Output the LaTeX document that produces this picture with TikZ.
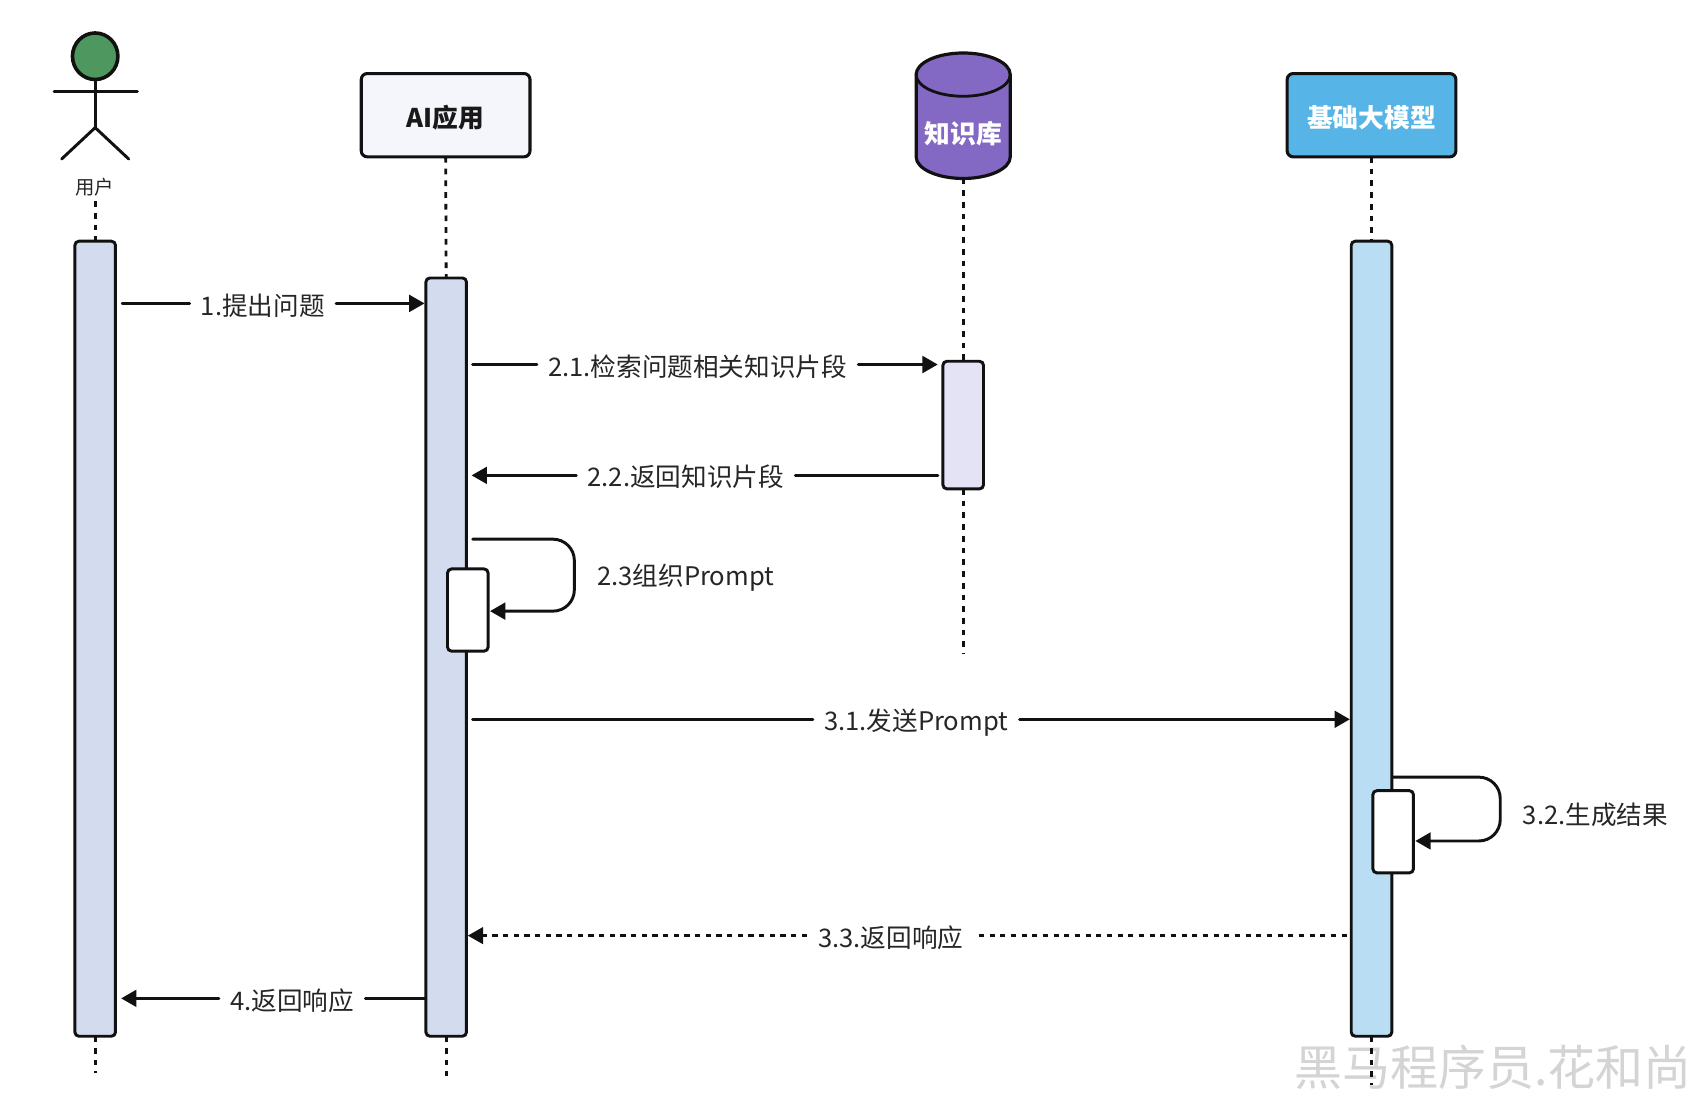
\documentclass[tikz,border=0pt]{standalone}
\usepackage{fontspec}
\setmainfont{Noto Sans CJK SC}
\usetikzlibrary{arrows.meta,shapes.geometric}
\def\ux{0.8112pt}
\definecolor{inkc}{HTML}{111111}
\tikzset{
  every node/.style={inner sep=0pt,outer sep=0pt},
  ln/.style={line width=2.2pt,draw=inkc,line cap=round},
  msg/.style={ln,-{Triangle[length=11.5pt,width=12.5pt]}},
  life/.style={line width=2.1pt,draw=inkc,dash pattern=on 4.3pt off 4.5pt},
  dotmsg/.style={line width=1.9pt,draw=inkc,dash pattern=on 3.8pt off 4.2pt},
  headbox/.style={rectangle,draw=inkc,line width=2.3pt,rounded corners=4.5pt,minimum width=156*\ux,minimum height=77*\ux},
  bar/.style={rectangle,draw=inkc,line width=2.2pt,rounded corners=3pt,minimum width=37.5*\ux},
  msglabel/.style={font=\fontsize{19.2pt}{22pt}\selectfont,text=black!85,inner xsep=10.5*\ux},
  headtext/.style={font=\fontsize{19.3pt}{22pt}\selectfont\bfseries},
}
\begin{document}
\begin{tikzpicture}[x=\ux,y=-\ux]
\useasboundingbox (0,0) rectangle (1568,1016);
\fill[white] (0,0) rectangle (1568,1016);

% watermark
\node[font=\fontsize{36pt}{40pt}\selectfont,text=black!17] (wm) at (1380.5,987) {黑马程序员.花和尚};

% actor
\node[ellipse,draw=inkc,line width=2.7pt,fill={rgb,255:red,78;green,152;blue,96},minimum width=42*\ux,minimum height=43*\ux] (head) at (88,52) {};
\coordinate (armL) at (50,84.5);
\coordinate (armR) at (127,84.5);
\coordinate (hip) at (88,118);
\coordinate (legL) at (57,147);
\coordinate (legR) at (119,147);
\draw[ln] (armL) -- (armR);
\draw[ln] (head.south) -- (hip);
\draw[ln] (legL) -- (hip) -- (legR);
\node[font=\fontsize{14.5pt}{16pt}\selectfont,text=black!85] (user) at (87.5,173) {用户};

% headers
\node[headbox,fill={rgb,255:red,245;green,246;blue,251}] (app) at (412,106.5) {};
\node[headtext,text=black!90] at (412,109) {AI应用};
\coordinate (kbTop) at (890.5,49);
\coordinate (kbBottom) at (890.5,165);
\draw[line width=2.4pt,draw=inkc,fill={rgb,255:red,131;green,105;blue,196}]
  (847,69) -- (847,145)
  arc[start angle=180,end angle=360,x radius=43.5*\ux,y radius=20*\ux]
  -- (934,69)
  arc[start angle=0,end angle=180,x radius=43.5*\ux,y radius=20*\ux] -- cycle;
\draw[line width=2.1pt,draw=inkc]
  (847,69) arc[start angle=180,end angle=360,x radius=43.5*\ux,y radius=20*\ux];
\node[headtext,text=white] (kb) at (890.5,123.5) {知识库};
\node[headbox,fill={rgb,255:red,86;green,181;blue,230}] (llm) at (1268,106.5) {};
\node[headtext,text=white] at (1268,108.5) {基础大模型};

% activation bars
\node[bar,fill={rgb,255:red,211;green,220;blue,238},minimum height=735*\ux] (bu) at (88,590.5) {};
\node[bar,fill={rgb,255:red,211;green,220;blue,238},minimum height=701*\ux] (ba) at (412.5,607.5) {};
\node[bar,fill={rgb,255:red,228;green,226;blue,245},minimum height=118*\ux] (bk) at (890.5,393) {};
\node[bar,fill={rgb,255:red,185;green,221;blue,242},minimum height=735*\ux] (bl) at (1268,590.5) {};
\node[bar,fill=white,minimum height=76*\ux] (a23) at (432.5,564) {};
\node[bar,fill=white,minimum height=76*\ux] (a32) at (1288,769) {};

% lifelines
\coordinate (uStart) at (88,186);
\coordinate (uEnd) at (88,992);
\coordinate (aEnd) at (412.5,995);
\coordinate (kEnd) at (890.5,605);
\coordinate (lEnd) at (1268,1003);
\draw[life] (uStart) -- (bu.north);
\draw[life] (bu.south) -- (uEnd);
\draw[life] (app.south) -- (ba.north);
\draw[life] (ba.south) -- (aEnd);
\draw[life] (kbBottom) -- (bk.north);
\draw[life] (bk.south) -- (kEnd);
\draw[life] (llm.south) -- (bl.north);
\draw[life] (bl.south) -- (lEnd);

% message labels
\node[msglabel] (m1) at (243,282.5) {1.提出问题};
\node[msglabel] (m21) at (645,339) {2.1.检索问题相关知识片段};
\node[msglabel] (m22) at (634,441) {2.2.返回知识片段};
\node[msglabel] (m23) at (634,534.5) {2.3组织Prompt};
\node[msglabel] (m31) at (847,668) {3.1.发送Prompt};
\node[msglabel] (m32) at (1475,753) {3.2.生成结果};
\node[msglabel] (m33) at (823.5,867) {3.3.返回响应};
\node[msglabel] (m4) at (270,925) {4.返回响应};

% 1
\coordinate (s1) at (113,280.5);
\coordinate (e1) at (392.5,280.5);
\draw[ln] (s1) -- (m1.west |- s1);
\draw[msg] (m1.east |- s1) -- (e1);
% 2.1
\coordinate (s21) at (437,337);
\coordinate (e21) at (867,337);
\draw[ln] (s21) -- (m21.west |- s21);
\draw[msg] (m21.east |- s21) -- (e21);
% 2.2
\coordinate (s22) at (867,439.5);
\coordinate (e22) at (436,439.5);
\draw[ln] (s22) -- (m22.east |- s22);
\draw[msg] (m22.west |- s22) -- (e22);
% 2.3
\coordinate (s23) at (437,498.5);
\coordinate (e23) at (453,565);
\draw[msg,rounded corners=16pt] (s23) -- (531,498.5) -- (531,565) -- (e23);
% 3.1
\coordinate (s31) at (437,665);
\coordinate (e31) at (1248,665);
\draw[ln] (s31) -- (m31.west |- s31);
\draw[msg] (m31.east |- s31) -- (e31);
% 3.2
\coordinate (s32) at (1288,718.5);
\coordinate (e32) at (1308.5,777.5);
\draw[msg,rounded corners=16pt] (s32) -- (1387,718.5) -- (1387,777.5) -- (e32);
% 3.3
\coordinate (s33) at (1245,865);
\coordinate (e33) at (432.5,865);
\draw[dotmsg] (s33) -- (m33.east |- s33);
\draw[dotmsg,-{Triangle[length=11.5pt,width=12.5pt,fill=inkc]}] (m33.west |- s33) -- (e33);
% 4
\coordinate (s4) at (393,923);
\coordinate (e4) at (112,923);
\draw[ln] (s4) -- (m4.east |- s4);
\draw[msg] (m4.west |- s4) -- (e4);
\end{tikzpicture}
\end{document}
